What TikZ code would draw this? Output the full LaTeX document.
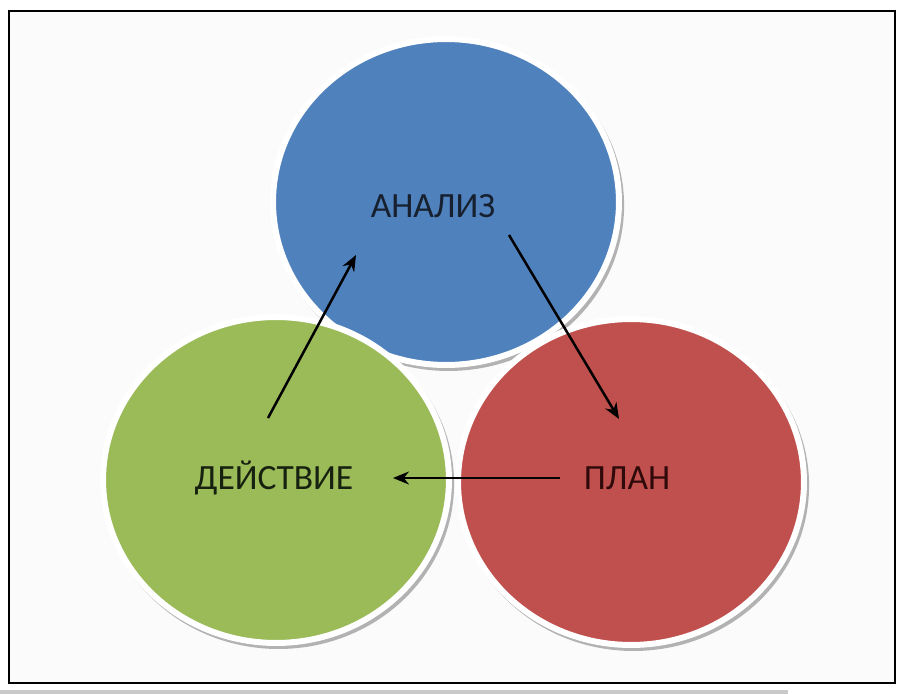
\documentclass[tikz,border=0pt]{standalone}
\usepackage{fontspec}
\setmainfont{Carlito}
\usepackage{tikz}
\definecolor{blue500}{HTML}{4F81BD}
\definecolor{red500}{HTML}{C0504D}
\definecolor{green500}{HTML}{9BBB59}
\definecolor{gray50}{HTML}{FBFBFB}
\definecolor{gray400}{HTML}{B2B2B2}
\definecolor{navy900}{HTML}{17202F}
\definecolor{olive900}{HTML}{172110}
\definecolor{maroon900}{HTML}{300A0A}
\usetikzlibrary{arrows.meta,shapes.geometric,shadows}
\tikzstyle{krug}=[ellipse, draw=white, line width=0.12cm, minimum width=6.92cm, minimum height=6.52cm, drop shadow={shadow xshift=0.05cm, shadow yshift=-0.07cm, shadow scale=1.015, fill=gray400, opacity=1}]
\tikzstyle{nadpis}=[anchor=base, inner sep=0pt, font=\fontsize{20.2}{24}\selectfont]
\tikzstyle{strelka}=[-{Stealth[length=0.32cm, width=0.26cm]}, line width=0.05cm, black]

\begin{document}
\begin{tikzpicture}[x=0.02cm, y=-0.02cm]
			\useasboundingbox (0,0) rectangle (904,694);
			\fill[gray50] (9,11) rectangle (895,683);
			\draw[black, line width=0.04cm] (9,11) rectangle (895,683);
			\fill[gray400!70] (0,690) rectangle (788,694);
			\node[krug, fill=blue500] (analiz) at (446,202) {};
			\node[krug, fill=green500] (deistvie) at (276,480) {};
			\node[krug, fill=red500] (plan) at (631,482) {};
			\node[nadpis, text=navy900] (tAnaliz) at (433,217) {АНАЛИЗ};
			\node[nadpis, text=olive900] (tDeistvie) at (274,489) {ДЕЙСТВИЕ};
			\node[nadpis, text=maroon900] (tPlan) at (627,489) {ПЛАН};
			\coordinate (d1) at (268,418);
			\coordinate (a1) at (356,255);
			\coordinate (a2) at (509,235);
			\coordinate (p1) at (619,419);
			\coordinate (p2) at (560,478);
			\coordinate (d2) at (393,478);
			\path[strelka] (d1) edge (a1) (a2) edge (p1) (p2) edge (d2);
		\end{tikzpicture}
\end{document}
